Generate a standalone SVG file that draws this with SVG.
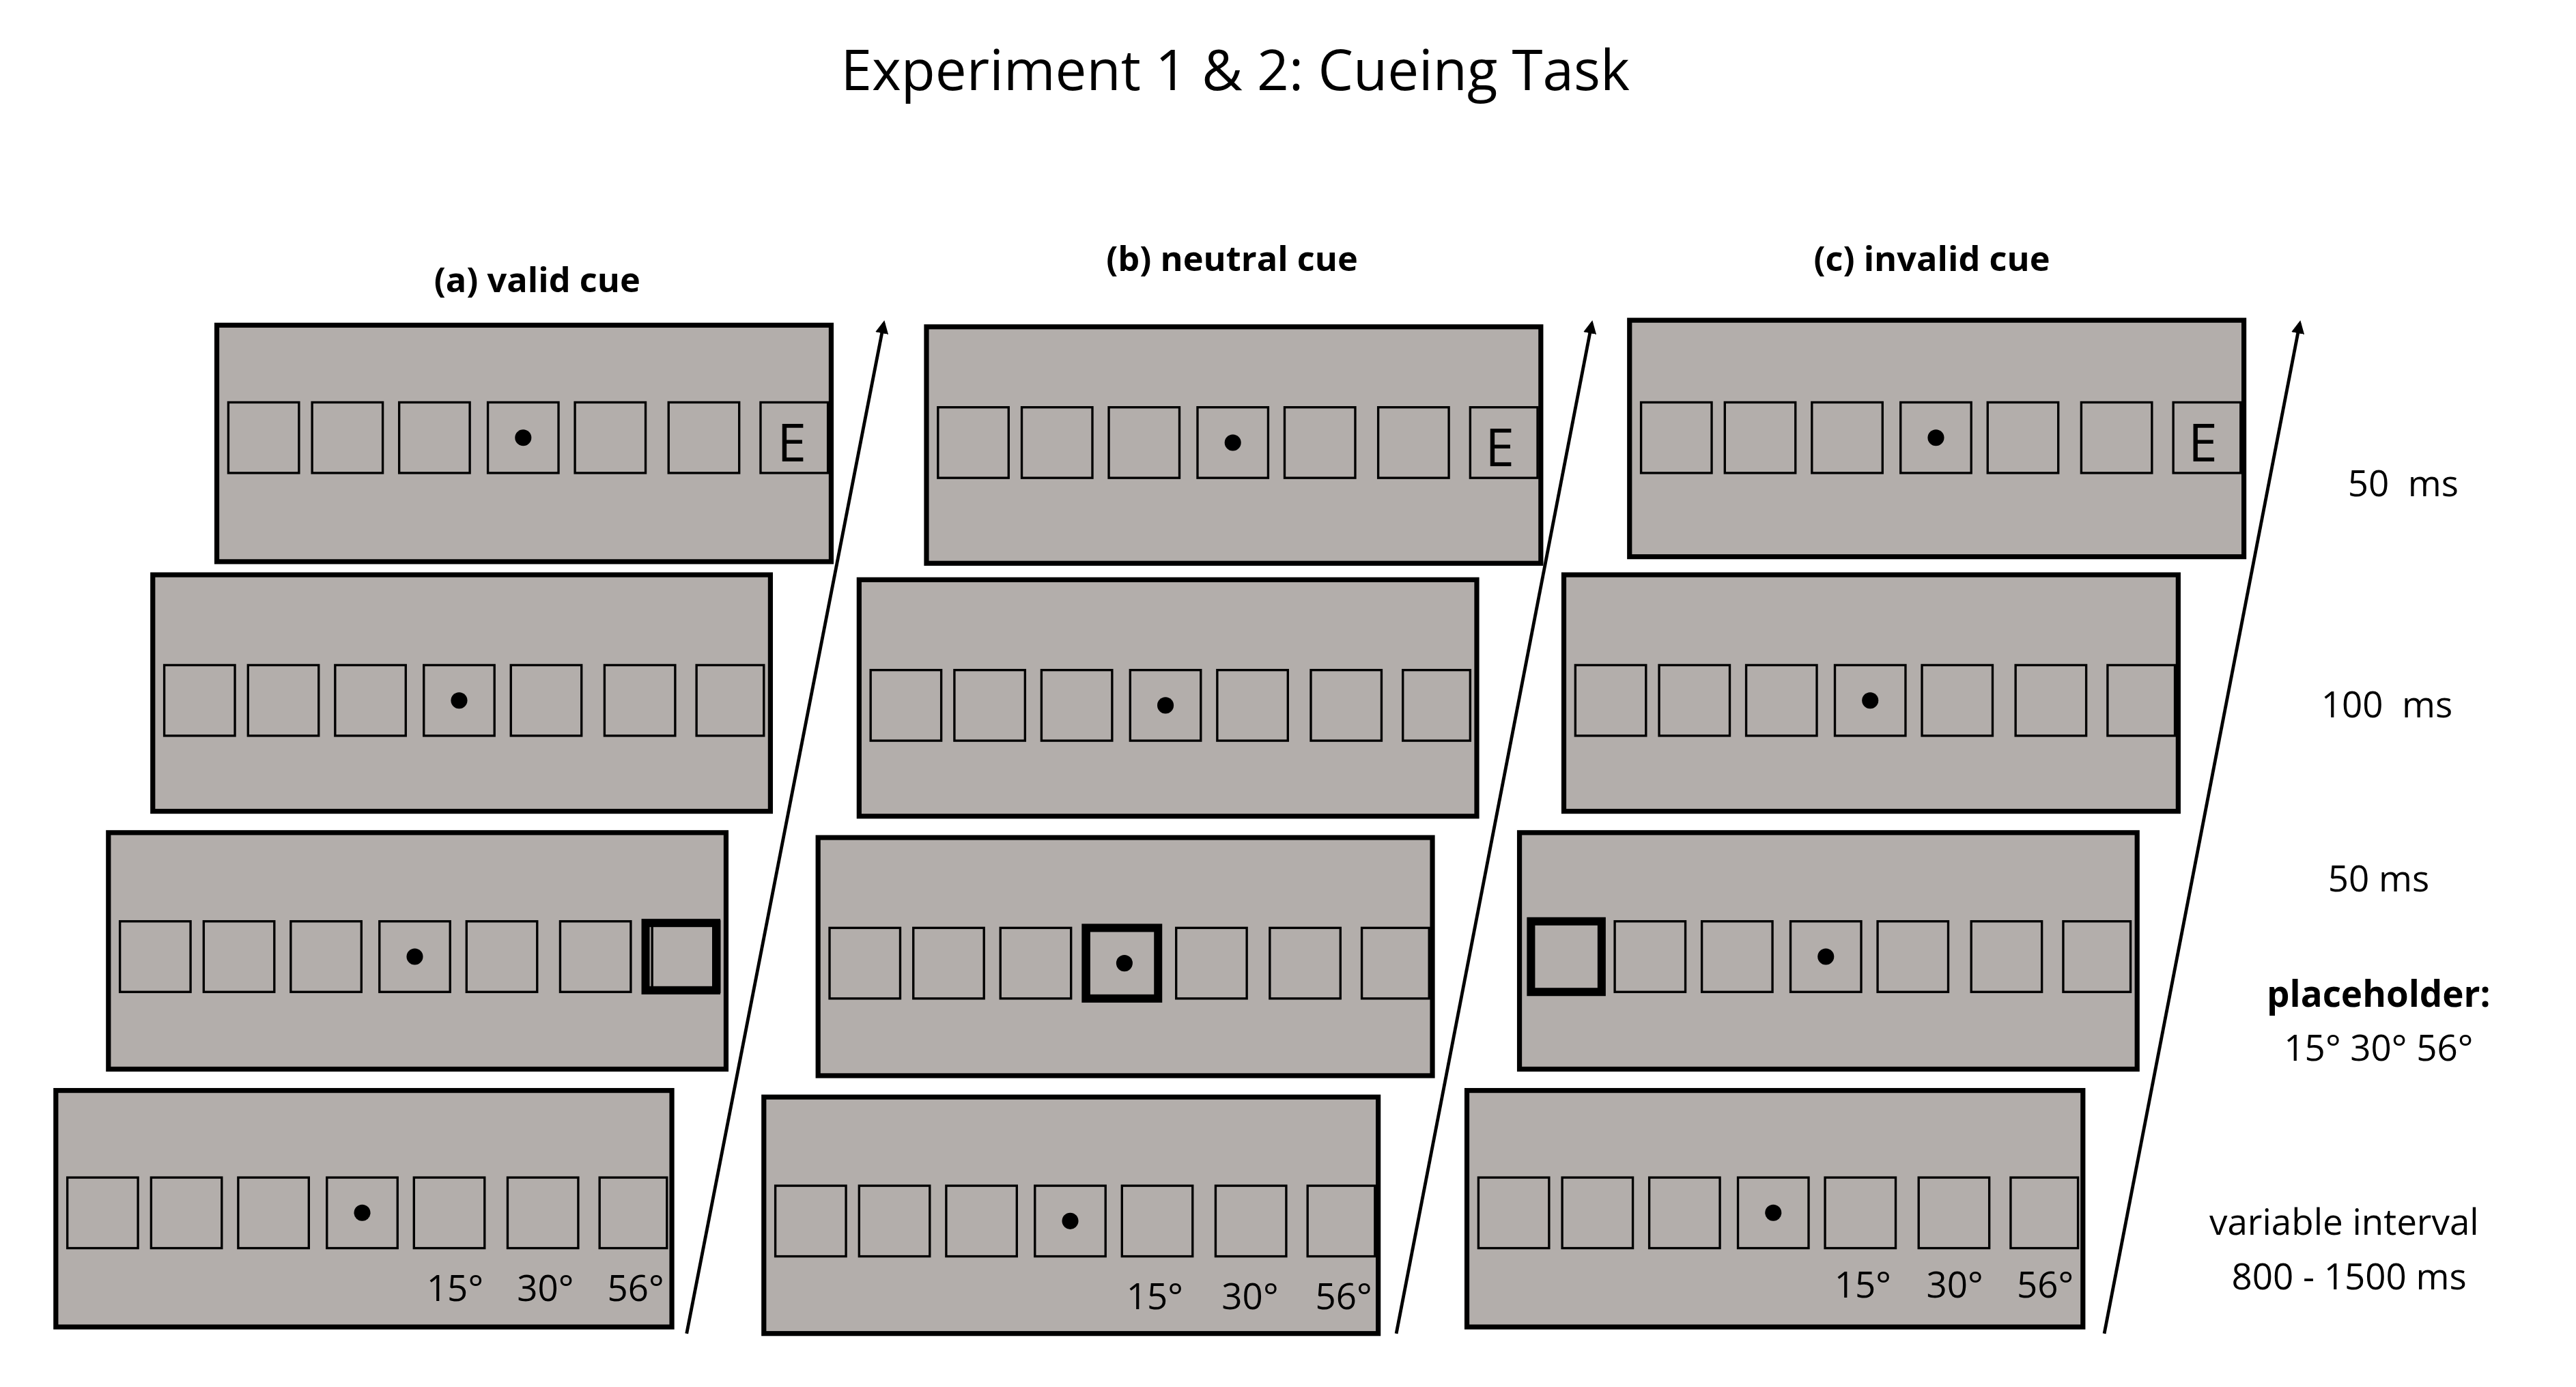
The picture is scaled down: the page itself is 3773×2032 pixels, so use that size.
<svg xmlns="http://www.w3.org/2000/svg" xmlns:xlink="http://www.w3.org/1999/xlink" width="3773" height="2032" viewBox="0 0 3773 2032">
<style>
.fr{fill:#b3aeab;stroke:#000;stroke-width:3}
.sq{fill:none;stroke:#000;stroke-width:1.4}
.th{fill:none;stroke:#000;stroke-width:5}
.t{font-family:"Open Sans","Liberation Sans",sans-serif;fill:#000}
.b{font-weight:bold}
.ar{stroke:#000;stroke-width:2;fill:none}
</style>
<defs>
<g id="strip">
<rect class="sq" x="7" y="0" width="43" height="43"/>
<rect class="sq" x="58" y="0" width="43" height="43"/>
<rect class="sq" x="111" y="0" width="43" height="43"/>
<rect class="sq" x="165" y="0" width="43" height="43"/>
<rect class="sq" x="218" y="0" width="43" height="43"/>
<rect class="sq" x="275" y="0" width="43" height="43"/>
<rect class="sq" x="331" y="0" width="41" height="43"/>
<circle cx="186.5" cy="21.5" r="5" fill="#000"/>
</g>
<marker id="ah" markerWidth="8" markerHeight="8" refX="6" refY="4" orient="auto" markerUnits="userSpaceOnUse">
<path d="M0,0 L8,4 L0,8 Z" fill="#000"/>
</marker>
</defs>
<rect width="3773" height="2032" fill="#fff"/>
<g transform="scale(2.406)">
<text class="t" x="752" y="55" font-size="34" text-anchor="middle">Experiment 1 &amp; 2: Cueing Task</text>
<text class="t b" x="327" y="178" font-size="21" text-anchor="middle">(a) valid cue</text>
<text class="t b" x="750" y="165" font-size="21" text-anchor="middle">(b) neutral cue</text>
<text class="t b" x="1176" y="165" font-size="21" text-anchor="middle">(c) invalid cue</text>

<g id="a1"><rect class="fr" x="132" y="198" width="374" height="144"/><use xlink:href="#strip" transform="translate(132,245)"/><text class="t" x="482" y="281" font-size="32" text-anchor="middle">E</text></g>
<g id="a2"><rect class="fr" x="93" y="350" width="376" height="144"/><use xlink:href="#strip" transform="translate(93,405)"/></g>
<g id="a3"><rect class="fr" x="66" y="507" width="376" height="144"/><use xlink:href="#strip" transform="translate(66,561)"/><rect class="th" x="393" y="562" width="43" height="41"/></g>
<g id="a4"><rect class="fr" x="34" y="664" width="375" height="144"/><use xlink:href="#strip" transform="translate(34,717)"/><text class="t" x="277" y="792" font-size="22" text-anchor="middle">15°</text><text class="t" x="332" y="792" font-size="22" text-anchor="middle">30°</text><text class="t" x="387" y="792" font-size="22" text-anchor="middle">56°</text></g>

<g id="b1"><rect class="fr" x="564" y="199" width="374" height="144"/><use xlink:href="#strip" transform="translate(564,248)"/><text class="t" x="913" y="284" font-size="32" text-anchor="middle">E</text></g>
<g id="b2"><rect class="fr" x="523" y="353" width="376" height="144"/><use xlink:href="#strip" transform="translate(523,408)"/></g>
<g id="b3"><rect class="fr" x="498" y="510" width="374" height="145"/><use xlink:href="#strip" transform="translate(498,565)"/><rect class="th" x="661" y="565" width="44" height="43"/></g>
<g id="b4"><rect class="fr" x="465" y="668" width="374" height="144"/><use xlink:href="#strip" transform="translate(465,722)"/><text class="t" x="703" y="797" font-size="22" text-anchor="middle">15°</text><text class="t" x="761" y="797" font-size="22" text-anchor="middle">30°</text><text class="t" x="818" y="797" font-size="22" text-anchor="middle">56°</text></g>

<g id="c1"><rect class="fr" x="992" y="195" width="374" height="144"/><use xlink:href="#strip" transform="translate(992,245)"/><text class="t" x="1341" y="281" font-size="32" text-anchor="middle">E</text></g>
<g id="c2"><rect class="fr" x="952" y="350" width="374" height="144"/><use xlink:href="#strip" transform="translate(952,405)"/></g>
<g id="c3"><rect class="fr" x="925" y="507" width="376" height="144"/><use xlink:href="#strip" transform="translate(925,561)"/><rect class="th" x="932" y="561" width="43" height="43"/></g>
<g id="c4"><rect class="fr" x="893" y="664" width="375" height="144"/><use xlink:href="#strip" transform="translate(893,717)"/><text class="t" x="1134" y="790" font-size="22" text-anchor="middle">15°</text><text class="t" x="1190" y="790" font-size="22" text-anchor="middle">30°</text><text class="t" x="1245" y="790" font-size="22" text-anchor="middle">56°</text></g>

<g id="connectors">
<line class="ar" x1="418" y1="812" x2="538" y2="197" marker-end="url(#ah)"/>
<line class="ar" x1="850" y1="812" x2="969" y2="197" marker-end="url(#ah)"/>
<line class="ar" x1="1281" y1="812" x2="1400" y2="197" marker-end="url(#ah)"/>
</g>

<g id="labels">
<text class="t" x="1463" y="302" font-size="22" text-anchor="middle" xml:space="preserve">50  ms</text>
<text class="t" x="1453" y="437" font-size="22" text-anchor="middle" xml:space="preserve">100  ms</text>
<text class="t" x="1448" y="543" font-size="22" text-anchor="middle">50 ms</text>
<text class="t b" x="1448" y="613" font-size="22" text-anchor="middle">placeholder:</text>
<text class="t" x="1448" y="646" font-size="22" text-anchor="middle">15° 30° 56°</text>
<text class="t" x="1427" y="752" font-size="22" text-anchor="middle">variable interval</text>
<text class="t" x="1430" y="785" font-size="22" text-anchor="middle">800 - 1500 ms</text>
</g>
</g>
</svg>
